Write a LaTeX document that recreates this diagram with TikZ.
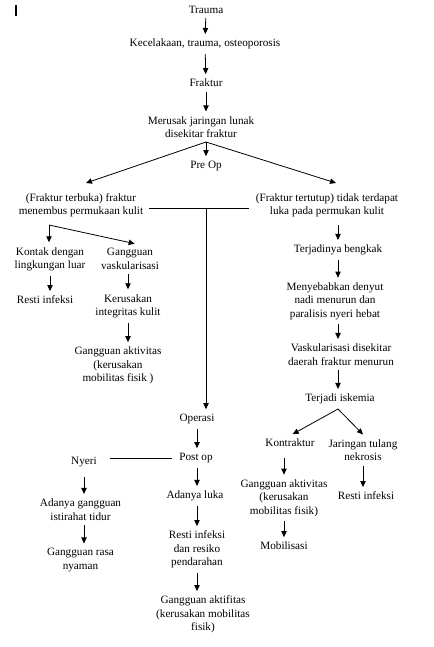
\documentclass[tikz,border=0pt]{standalone}
\usepackage{fontspec}
\setmainfont{Liberation Serif}
\usetikzlibrary{arrows.meta}

\begin{document}
\begin{tikzpicture}[x=0.75pt, y=-0.75pt, font=\fontsize{8.4}{10}\selectfont,
  every node/.style={inner xsep=1pt, inner ysep=3.5pt, align=center},
  arr/.style={line width=0.6pt, -{Triangle[length=4.5pt,width=4pt]}},
  ln/.style={line width=0.6pt}]
\useasboundingbox (0,0) rectangle (434,647);
\draw[line width=1.5pt] (16,5) -- (16,16);

\node[anchor=center] (trauma) at (206,9.5) {Trauma};
\node[anchor=center] (kec) at (205,44) {Kecelakaan, trauma, osteoporosis};
\node[anchor=center] (fraktur) at (206,83) {Fraktur};
\node[anchor=center] (merusak) at (201,127) {Merusak jaringan lunak\\disekitar fraktur};
\node[anchor=center] (preop) at (206,166) {Pre Op};
\node[anchor=center] (terbuka) at (81,205) {(Fraktur terbuka) fraktur\\menembus permukaan kulit};
\node[anchor=center] (tertutup) at (327,205) {(Fraktur tertutup) tidak terdapat\\luka pada permukan kulit};

\node[anchor=center] (kontak) at (50,259) {Kontak dengan\\lingkungan luar};
\node[anchor=center] (vask) at (130,259) {Gangguan\\vaskularisasi};
\node[anchor=center] (resti1) at (45,300) {Resti infeksi};
\node[anchor=center] (kerusakan) at (128,306) {Kerusakan\\integritas kulit};
\node[anchor=center] (aktiv1) at (118,365.5) {Gangguan aktivitas\\(kerusakan\\mobilitas fisik )};

\node[anchor=center] (bengkak) at (338,250) {Terjadinya bengkak};
\node[anchor=center] (denyut) at (335,301) {Menyebabkan denyut\\nadi menurun dan\\paralisis nyeri hebat};
\node[anchor=center] (vaskdaerah) at (341,354.5) {Vaskularisasi disekitar\\daerah fraktur menurun};
\node[anchor=center] (iskemia) at (340,399) {Terjadi iskemia};
\node[anchor=center] (kontraktur) at (290,443) {Kontraktur};
\node[anchor=center] (jaringan) at (363,450) {Jaringan tulang\\nekrosis};
\node[anchor=center] (aktiv3) at (284,498) {Gangguan aktivitas\\(kerusakan\\mobilitas fisik)};
\node[anchor=center] (mobil) at (284,546) {Mobilisasi};
\node[anchor=center] (resti3) at (366,496) {Resti infeksi};

\node[anchor=center] (operasi) at (197,419) {Operasi};
\node[anchor=center] (postop) at (196,458) {Post op};
\node[anchor=center] (luka) at (195,496) {Adanya luka};
\node[anchor=center] (resti2) at (197,549.5) {Resti infeksi\\dan resiko\\pendarahan};
\node[anchor=center] (aktif2) at (203,614.5) {Gangguan aktifitas\\(kerusakan mobilitas\\fisik)};
\node[anchor=center] (nyeri) at (84,462) {Nyeri};
\node[anchor=center] (tidur) at (80.5,509.5) {Adanya gangguan\\istirahat tidur};
\node[anchor=center] (nyaman) at (80.5,560) {Gangguan rasa\\nyaman};

\coordinate (fan) at (206,142);
\coordinate (fanl) at (86,183);
\coordinate (fanr) at (336,183);
\coordinate (jop) at (206,208);
\coordinate (lsplit) at (49,225);

\draw[arr] (trauma) -- (kec);
\draw[arr] (kec) -- (fraktur);
\draw[arr] (fraktur) -- (fraktur |- merusak.north);
\draw[arr] (fan) -- (preop);
\draw[arr] (fan) -- (fanl);
\draw[arr] (fan) -- (fanr);
\draw[ln, shorten <=3.5pt, shorten >=4pt] (terbuka.east |- jop) -- (tertutup.west |- jop);
\draw[arr] (jop) -- (jop |- operasi.north);

\draw[arr] (lsplit) -- (lsplit |- kontak.north);
\draw[arr] (lsplit) -- ([xshift=3.5pt]vask.north);
\draw[arr] (kontak.south) -- (kontak.south |- resti1.north);
\draw[arr] (kerusakan.north |- vask.south) -- (kerusakan.north);
\draw[arr] (kerusakan.south) -- (kerusakan.south |- aktiv1.north);

\draw[arr, shorten <=2.5pt] (tertutup.south -| bengkak) -- (bengkak);
\draw[arr] (bengkak) -- (bengkak |- denyut.north);
\draw[arr] (bengkak |- denyut.south) -- (bengkak |- vaskdaerah.north);
\draw[arr] (bengkak |- vaskdaerah.south) -- (bengkak |- iskemia.north);
\draw[arr] (iskemia.south -| bengkak) -- ([xshift=2pt]kontraktur.north);
\draw[arr] (iskemia.south -| bengkak) -- (jaringan.north);
\draw[arr, shorten <=4.5pt] (aktiv3.north |- kontraktur.south) -- (aktiv3.north);
\draw[arr] (aktiv3.south) -- (mobil);
\draw[arr] (jaringan.south) -- (jaringan.south |- resti3.north);

\draw[arr] (operasi.south) -- (operasi.south |- postop.north);
\draw[arr] (operasi.south |- postop.south) -- (operasi.south |- luka.north);
\draw[arr] (operasi.south |- luka.south) -- (operasi.south |- resti2.north);
\draw[arr] (operasi.south |- resti2.south) -- (operasi.south |- aktif2.north);
\draw[ln, shorten <=4.3pt, shorten >=8.8pt] (postop.west) -- (postop.west -| nyeri.east);
\draw[arr, shorten <=4pt] (nyeri.south) -- (nyeri.south |- tidur.north);
\draw[arr] (nyeri.south |- tidur.south) -- (nyeri.south |- nyaman.north);
\end{tikzpicture}
\end{document}
